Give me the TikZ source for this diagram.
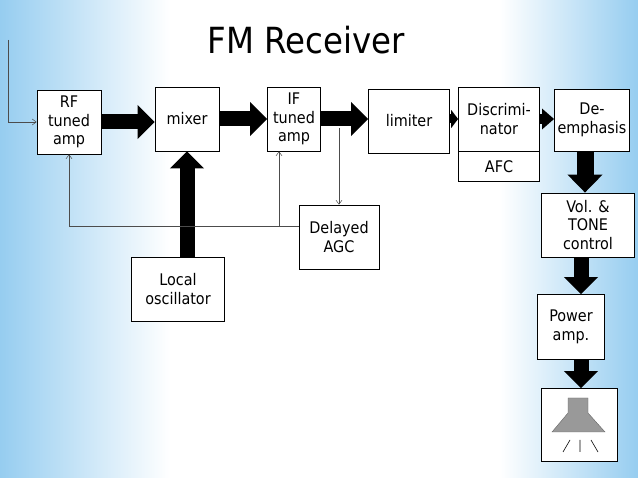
\documentclass[tikz,border=0pt]{standalone}
\usepackage{fontspec}
\setmainfont{DejaVu Sans Condensed}
\usetikzlibrary{arrows.meta}
\begin{document}
\begin{tikzpicture}[x=1pt,y=-1pt,
  box/.style={draw,fill=white,line width=0.8pt,align=center,font=\fontsize{16}{18.5}\selectfont,inner sep=0pt},
  fat/.style={line width=15pt,-{Triangle[width=33pt,length=17pt]}},
  thin/.style={line width=0.5pt,draw=black!70,-{Straight Barb[length=4pt,width=6pt]}}]
\useasboundingbox (0,0) rectangle (638,478);
\definecolor{bgb}{RGB}{150,205,240}
\shade[left color=bgb,right color=white] (0,0) rectangle (170,478);
\fill[white] (170,0) rectangle (500,478);
\shade[left color=white,right color=bgb] (500,0) rectangle (638,478);
\node[font=\fontsize{36}{40}\selectfont] (title) at (306,40) {FM Receiver};
\node[box,minimum width=64pt,minimum height=64pt] (rf) at (69,122) {RF\\tuned\\amp};
\node[box,minimum width=64pt,minimum height=64pt] (mix) at (187,119) {mixer};
\node[box,minimum width=53pt,minimum height=64pt] (if) at (294,119) {IF\\tuned\\amp};
\node[box,minimum width=81pt,minimum height=64pt] (lim) at (409,121) {limiter};
\node[box,minimum width=81pt,minimum height=64pt] (disc) at (499,119) {Discrimi-\\nator};
\node[box,minimum width=81pt,minimum height=30pt,anchor=north] (afc) at (disc.south) {AFC};
\node[box,minimum width=75pt,minimum height=62pt] (de) at (592,120) {De-\\emphasis};
\node[box,minimum width=93pt,minimum height=64pt] (vol) at (588,225) {Vol. \&\\TONE\\control};
\node[box,minimum width=67pt,minimum height=65pt] (pow) at (571,327) {Power\\amp.};
\node[box,minimum width=76pt,minimum height=73pt] (spk) at (579,425) {};
\node[box,minimum width=80pt,minimum height=64pt] (agc) at (339,237) {Delayed\\AGC};
\node[box,minimum width=93pt,minimum height=64pt] (lo) at (178,289) {Local\\oscillator};
% speaker
\fill[gray!80,draw=black!60] (568,398) -- (588,398) -- (588,413) -- (605,432) -- (552,432) -- (568,413) -- cycle;
\draw[line width=0.6pt] (563,452) -- (570,440) (580,440) -- (580,452) (591,440) -- (598,452);
% fat arrows
\draw[fat] (rf.east) -- (mix.west |- rf.east);
\draw[fat] (mix.east) -- (if.west);
\draw[fat] (if.east) -- (lim.west |- if.east);
\draw[line width=9pt,-{Triangle[width=18pt,length=7pt]}] (lim.east |- disc.west) -- (disc.west);
\draw[line width=10pt,-{Triangle[width=20pt,length=12pt]}] (disc.east) -- (de.west |- disc.east);
\draw[fat] (lo.north -| mix.south) -- (mix.south);
\draw[line width=17pt,-{Triangle[width=34pt,length=18pt]}] (de.south -| vol.north) ++(-3,0) coordinate (d1) (d1) -- (d1 |- vol.north);
\draw[fat] (vol.south -| pow.north) ++(10,0) coordinate (d2) (d2) -- (d2 |- pow.north);
\draw[fat] (pow.south -| spk.north) ++(2,0) coordinate (d3) (d3) -- (d3 |- spk.north);
% thin lines
\coordinate (in) at (8,40);
\draw[thin] (in) |- (rf.west);
\coordinate (j1) at (279,226);
\draw[thin] (agc.west |- j1) -| (rf.south);
\draw[thin] (j1) -- (j1 |- if.south);
\coordinate (j2) at (339,128);
\draw[thin] (j2) -- (agc.north);
\end{tikzpicture}
\end{document}
